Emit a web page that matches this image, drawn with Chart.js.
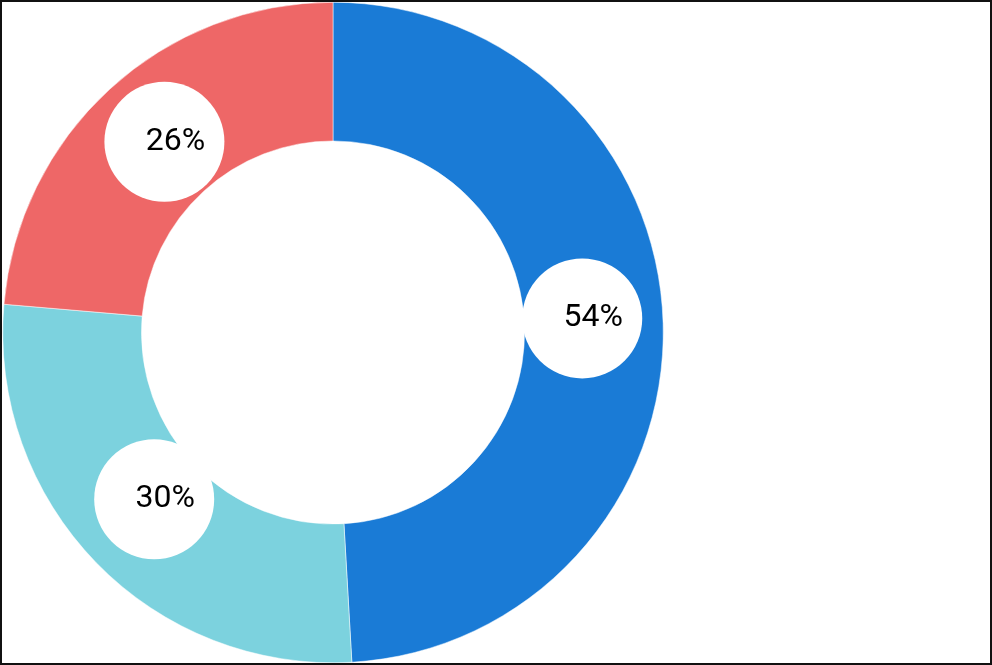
<!DOCTYPE html>
<html>
<head>
<meta charset="utf-8">
<script src="https://cdn.jsdelivr.net/npm/chart.js@4/dist/chart.umd.min.js"></script>
<style>
  html, body { margin: 0; padding: 0; background: #fff; }
  #frame { position: relative; width: 992px; height: 665px; box-sizing: border-box; border: 2px solid #111; background: #fff; }
  #wrap { position: absolute; left: 0; top: 0; width: 662px; height: 661px; }
</style>
</head>
<body>
<div id="frame"><div id="wrap"><canvas id="c"></canvas></div></div>
<script>
const categories = ['A', 'B', 'C'];
const values = [54, 30, 26];
const valueLabels = ['54%', '30%', '26%'];
const colors = ['#1a7bd6', '#7cd2de', '#ee6767'];

const labelBubbles = {
  id: 'labelBubbles',
  afterDatasetsDraw(chart) {
    const ctx = chart.ctx;
    const meta = chart.getDatasetMeta(0);
    meta.data.forEach((arc, i) => {
      const p = arc.getProps(['x', 'y', 'startAngle', 'endAngle', 'outerRadius'], true);
      const mid = (p.startAngle + p.endAngle) / 2;
      const r = p.outerRadius * 0.755;
      const cx = p.x + Math.cos(mid) * r;
      const cy = p.y - 7 + Math.sin(mid) * r;
      ctx.save();
      ctx.beginPath();
      ctx.arc(cx, cy, 60, 0, Math.PI * 2);
      ctx.fillStyle = '#ffffff';
      ctx.fill();
      ctx.fillStyle = '#000000';
      ctx.font = '32px Roboto';
      ctx.textAlign = 'center';
      ctx.textBaseline = 'middle';
      ctx.fillText(valueLabels[i], cx + 11, cy);
      ctx.restore();
    });
  }
};

new Chart(document.getElementById('c'), {
  type: 'doughnut',
  data: {
    labels: categories,
    datasets: [{
      data: values,
      backgroundColor: colors,
      borderColor: '#ffffff',
      borderWidth: 0.5
    }]
  },
  options: {
    responsive: true,
    maintainAspectRatio: false,
    animation: false,
    cutout: '58%',
    layout: { padding: 0 },
    plugins: { legend: { display: false }, tooltip: { enabled: false } }
  },
  plugins: [labelBubbles]
});
</script>
</body>
</html>
